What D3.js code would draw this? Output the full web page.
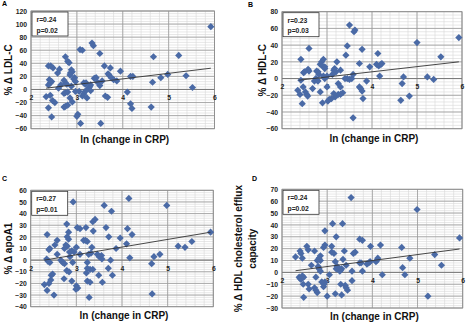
<!DOCTYPE html>
<html>
<head>
<meta charset="utf-8">
<script src="https://cdn.jsdelivr.net/npm/d3@7"></script>
<style>
  body { margin: 0; background: #fff; }
  svg { display: block; font-family: "Liberation Sans", Arial, sans-serif; }
</style>
</head>
<body>
<svg id="chart" width="474" height="324"></svg>
<script>
// x = ln(change in CRP), y = % change of each outcome
var ldlPoints = [
  [5.92,96],[4.67,50],[5.22,52],[3.33,71],[3.36,67],[3.07,61],[3.12,60],[3.5,55],
  [2.75,50],[2.8,43],[2.83,41],[2.38,36],[2.43,36],[2.48,33],[2.62,31],[2.58,25],
  [2.88,30],[2.9,27],[2.86,25],[2.85,22],[3.6,36],[3.73,33],[3.95,28],[3.68,24],
  [3.7,22],[3.75,18],[3.8,15],[3.87,13],[4.17,20],[4.22,20],[4.98,23],[4.83,18],
  [5.38,21],[5.52,3],[4.65,11],[4.1,-4],[4.17,-22],[4.2,-29],[4.62,-27],[3.38,17],
  [3.42,18],[3.55,13],[3.5,6],[2.4,15],[2.45,12],[2.42,10],[2.38,7],[2.33,-11],
  [2.38,-28],[2.42,-9],[2.47,-17],[2.52,-20],[2.45,-42],[2.6,2],[2.65,7],[2.72,14],
  [2.75,10],[2.78,8],[2.72,-6],[2.75,-5],[2.8,-4],[2.72,-27],[2.75,-26],[2.8,-24],
  [2.85,-13],[2.88,5],[2.95,18],[2.93,16],[2.97,12],[2.97,-3],[2.9,-19],[3.02,-38],
  [3.0,-41],[3.08,-52],[3.05,-3],[3.15,10],[3.18,8],[3.2,10],[3.12,-10],[3.15,-7],
  [3.22,-13],[3.25,2],[3.28,4],[3.3,7],[3.3,-2],[3.52,-52],[3.62,-10],[3.67,-12],
  [3.45,11],[3.18,-3]
];
var hdlPoints = [
  [5.93,49],[5.0,43],[5.53,26],[5.23,2],[5.37,-1],[4.7,2],[4.67,-6],[4.64,-26],
  [4.83,-21],[4.13,30],[4.1,17],[4.15,15],[4.2,17],[4.22,18],[4.17,3],[3.95,14],
  [3.88,-3],[3.78,35],[3.72,18],[3.72,-10],[3.75,-12],[3.78,-15],[3.8,-24],[3.5,64],
  [3.6,56],[3.62,58],[3.45,39],[3.42,28],[3.58,5],[3.55,0],[3.5,-1],[3.45,0],
  [3.4,0],[3.58,-47],[3.3,10],[3.35,-17],[3.3,-19],[3.25,-19],[3.22,20],[3.2,8],
  [3.17,12],[3.15,10],[3.12,5],[3.25,-6],[3.3,-10],[3.18,-22],[3.15,-18],[3.1,-24],
  [3.05,-25],[3.02,-27],[3.0,3],[2.92,23],[2.88,20],[2.85,17],[2.9,15],[2.95,14],
  [2.95,12],[2.8,8],[2.77,9],[2.78,-2],[2.75,0],[2.72,-3],[2.8,-3],[2.85,-16],
  [2.9,-29],[2.68,-12],[2.6,36],[2.58,11],[2.6,9],[2.42,23],[2.42,-2],[2.35,-14],
  [2.4,-19],[2.48,7],[2.5,8],[2.47,-10],[2.52,-16],[2.55,-19],[2.57,-21],[2.45,-30],
  [2.92,3],[2.95,0],[3.0,-10],[2.82,5]
];
var apoPoints = [
  [5.94,24],[4.15,53],[4.98,47],[2.93,50],[3.61,47],[3.77,42],[3.41,35],[3.36,33],
  [2.79,31],[3.21,28],[3.02,28],[3.08,27],[3.65,28],[3.37,25],[4.12,27],[4.22,22],
  [4.1,14],[3.96,19],[3.71,20],[3.87,10],[4.17,2],[2.83,24],[2.8,20],[2.83,18],
  [2.77,13],[2.8,12],[2.74,10],[2.36,22],[2.42,10],[2.4,9],[2.58,17],[2.53,13],
  [2.58,5],[2.66,0],[2.7,-2],[2.74,-3],[2.35,1],[2.38,-1],[2.42,-2],[2.9,8],
  [2.95,7],[2.85,7],[3.0,11],[2.86,3],[2.92,-2],[3.2,17],[3.24,16],[3.16,17],
  [3.08,5],[3.34,11],[3.32,6],[3.27,5],[3.46,5],[3.5,3],[3.55,4],[3.56,1],
  [3.7,-7],[3.75,0],[3.79,-13],[3.49,-13],[3.57,-19],[3.24,-2],[3.24,-7],[3.3,-8],
  [3.36,-8],[3.22,-11],[3.24,-18],[3.3,-19],[3.28,-32],[3.0,-22],[3.03,-24],[2.99,-25],
  [2.79,-9],[2.84,-10],[2.9,-18],[2.73,-16],[2.3,-21],[2.36,-26],[2.4,-20],[2.44,-17],
  [2.45,-13],[2.48,-12],[2.51,-30],[4.65,-3],[4.7,3],[4.83,5],[4.66,-29],[5.23,12],
  [5.38,11],[5.53,16]
];
var effluxPoints = [
  [5.93,29],[4.99,53],[3.53,63],[5.53,6],[5.38,15],[5.23,-20],[4.83,12],[4.65,21],
  [4.67,4],[4.72,-2],[4.18,23],[4.22,-2],[4.12,12],[4.1,10],[4.08,9],[3.96,22],
  [3.95,9],[3.92,8],[3.88,7],[3.72,28],[3.78,27],[3.72,8],[3.75,8],[3.78,1],
  [3.62,17],[3.58,16],[3.55,1],[3.55,-7],[3.4,-11],[3.42,-13],[3.45,-15],[3.38,18],
  [3.35,11],[3.34,41],[3.12,41],[3.2,30],[2.95,35],[2.95,23],[2.92,21],[3.1,22],
  [3.15,16],[3.1,17],[3.18,9],[3.22,5],[3.2,3],[3.27,3],[3.3,2],[3.32,3],
  [3.28,1],[3.42,6],[3.3,-10],[3.18,-18],[3.32,-19],[3.0,-20],[3.05,-2],[2.95,-8],
  [2.93,-10],[2.92,-12],[2.88,-8],[2.85,14],[2.82,12],[2.78,10],[2.85,10],[2.8,5],
  [2.82,3],[2.85,1],[2.72,18],[2.65,6],[2.75,-4],[2.72,-13],[2.75,-15],[2.78,-17],
  [2.55,22],[2.58,19],[2.4,18],[2.42,16],[2.45,12],[2.3,13],[2.38,-4],[2.4,-5],
  [2.42,-6],[2.45,-3],[2.48,-4],[2.47,-10],[2.48,-21],[2.58,-10],[2.6,-14]
];

var panelLetters = ["A", "B", "C", "D"];
var rValues = ["0.24", "0.23", "0.27", "0.24"];
var pValues = ["0.02", "0.03", "0.01", "0.02"];
var yTitles = [["% \u0394 LDL-C"], ["% \u0394 HDL-C"], ["% \u0394 apoA1"],
               ["% \u0394 HDL cholesterol efflux", "capacity"]];
var yDomains = [[-60, 120], [-60, 80], [-40, 60], [-30, 70]];
var yStep = [20, 20, 10, 10];
var xTicks = [2, 3, 4, 5, 6];
var trendLines = [
  [[2.33, 2], [5.92, 32.5]],
  [[2.37, -2], [5.93, 20]],
  [[2.3, 0], [5.94, 24]],
  [[2.3, 1.4], [5.93, 19.7]]
];
var xTitle = "ln (change in CRP)";

var svg = d3.select("#chart");

// plot-area boxes for the four panels
var frames = [
  {x0: 31, x1: 214.5, y0: 11, y1: 128.7, lx: 2, ly: 6, ytx: 8, xty: 143},
  {x0: 282, x1: 462, y0: 11.7, y1: 128.7, lx: 248, ly: 7, ytx: 262, xty: 142},
  {x0: 30.7, x1: 213.3, y0: 190.3, y1: 306.7, lx: 2, ly: 181, ytx: 8, xty: 319},
  {x0: 282, x1: 462.7, y0: 189.3, y1: 308, lx: 252, ly: 181, ytx: 245, xty: 320}
];
var datasets = [ldlPoints, hdlPoints, apoPoints, effluxPoints];

frames.forEach(function(f, i) {
  var x = d3.scaleLinear().domain([2, 6]).range([f.x0, f.x1]);
  var y = d3.scaleLinear().domain(yDomains[i]).range([f.y1, f.y0]);
  var g = svg.append("g");

  // minor grid
  var minorX = d3.range(2, 6.001, 0.2);
  var minorY = d3.range(yDomains[i][0], yDomains[i][1] + 0.001, yStep[i] / 5);
  g.selectAll(".mx").data(minorX).enter().append("line")
      .attr("x1", x).attr("x2", x).attr("y1", f.y0).attr("y2", f.y1)
      .attr("stroke", "#d6d6d6").attr("stroke-width", 0.6);
  g.selectAll(".my").data(minorY).enter().append("line")
      .attr("x1", f.x0).attr("x2", f.x1).attr("y1", y).attr("y2", y)
      .attr("stroke", "#d6d6d6").attr("stroke-width", 0.6);

  // major grid
  var yTicks = d3.range(yDomains[i][0], yDomains[i][1] + 0.001, yStep[i]);
  g.selectAll(".Mx").data(xTicks).enter().append("line")
      .attr("x1", x).attr("x2", x).attr("y1", f.y0).attr("y2", f.y1)
      .attr("stroke", "#9a9a9a").attr("stroke-width", 0.8);
  g.selectAll(".My").data(yTicks).enter().append("line")
      .attr("x1", f.x0).attr("x2", f.x1).attr("y1", y).attr("y2", y)
      .attr("stroke", "#9a9a9a").attr("stroke-width", 0.8);

  g.append("rect")
      .attr("x", f.x0).attr("y", f.y0)
      .attr("width", f.x1 - f.x0).attr("height", f.y1 - f.y0)
      .attr("fill", "none").attr("stroke", "#8c8c8c").attr("stroke-width", 0.8);

  // zero line
  g.append("line")
      .attr("x1", f.x0).attr("x2", f.x1).attr("y1", y(0)).attr("y2", y(0))
      .attr("stroke", "#7a7a7a").attr("stroke-width", 1);

  // tick labels
  var yAxis = g.append("g").attr("transform", "translate(" + f.x0 + ",0)")
      .call(d3.axisLeft(y).tickValues(yTicks).tickSize(0).tickPadding(4));
  var xAxis = g.append("g").attr("transform", "translate(0," + y(0) + ")")
      .call(d3.axisBottom(x).tickValues(xTicks).tickSize(0).tickPadding(6)
        .tickFormat(d3.format("d")));
  [yAxis, xAxis].forEach(function(a) {
    a.select(".domain").remove();
    a.selectAll("text").attr("font-size", 6.8).attr("font-weight", "bold")
        .attr("fill", "#222").attr("font-family", "Liberation Sans, Arial, sans-serif");
  });

  // scatter
  g.selectAll(".pt").data(datasets[i]).enter().append("path")
      .attr("d", "M0,-3.6L3.6,0L0,3.6L-3.6,0Z")
      .attr("transform", function(d) { return "translate(" + x(d[0]) + "," + y(d[1]) + ")"; })
      .attr("fill", "#4a6aa6");

  // linear trend
  g.append("line")
      .attr("x1", x(trendLines[i][0][0])).attr("y1", y(trendLines[i][0][1]))
      .attr("x2", x(trendLines[i][1][0])).attr("y2", y(trendLines[i][1][1]))
      .attr("stroke", "#333").attr("stroke-width", 0.9);

  // r / p box
  g.append("rect")
      .attr("x", f.x0 + 1).attr("y", f.y0 + 1)
      .attr("width", 36).attr("height", 24)
      .attr("fill", "#fff").attr("stroke", "#333").attr("stroke-width", 0.8);
  g.append("text").attr("x", f.x0 + 5.5).attr("y", f.y0 + 11)
      .attr("font-size", 6.8).attr("font-weight", "bold").attr("fill", "#222")
      .text("r=" + rValues[i]);
  g.append("text").attr("x", f.x0 + 5.5).attr("y", f.y0 + 21.5)
      .attr("font-size", 6.8).attr("font-weight", "bold").attr("fill", "#222")
      .text("p=" + pValues[i]);

  // panel letter
  g.append("text").attr("x", f.lx).attr("y", f.ly)
      .attr("font-size", 7).attr("font-weight", "bold").text(panelLetters[i]);

  // axis titles
  g.append("text")
      .attr("x", (f.x0 + f.x1) / 2 + 2).attr("y", f.xty)
      .attr("text-anchor", "middle").attr("font-size", 10)
      .attr("font-weight", "bold").attr("fill", "#111").text(xTitle);

  var cy = (f.y0 + f.y1) / 2;
  var yt = g.append("text")
      .attr("transform", "translate(" + f.ytx + "," + cy + ") rotate(-90)")
      .attr("text-anchor", "middle").attr("font-size", 10)
      .attr("font-weight", "bold").attr("fill", "#111");
  yTitles[i].forEach(function(line, k) {
    yt.append("tspan").attr("x", 0).attr("dy", k === 0 ? 3.5 - (yTitles[i].length - 1) * 7 : 14)
        .text(line);
  });
});
</script>
</body>
</html>
